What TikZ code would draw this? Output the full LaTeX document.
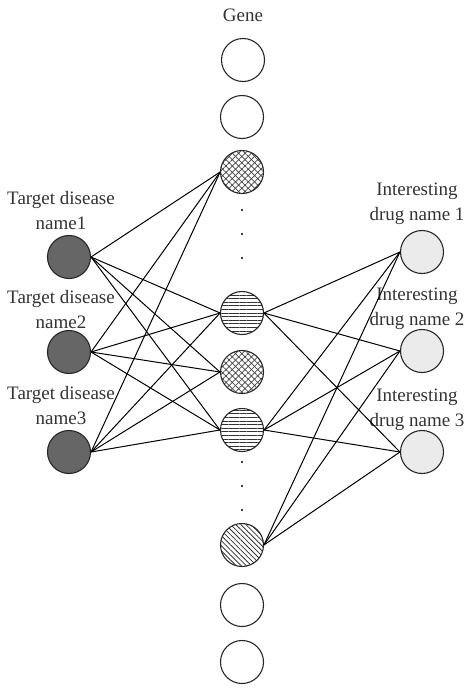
\documentclass[tikz,border=0pt]{standalone}
\usepackage{fontspec}
\setmainfont{Liberation Serif}
\usetikzlibrary{patterns.meta}
\definecolor{disfill}{HTML}{666666}
\definecolor{drugfill}{HTML}{EBEBEB}
\tikzset{
  base/.style={circle, draw=black!85, line width=1.1pt, minimum size=43pt, inner sep=0pt},
  gene/.style={base, fill=white},
  cross/.style={base, pattern={Lines[angle=45,distance=4.5pt,line width=0.7pt]}, pattern color=black!75,
     postaction={pattern={Lines[angle=-45,distance=4.5pt,line width=0.7pt]}, pattern color=black!75}},
  hlines/.style={base, pattern={Lines[angle=0,distance=3.6pt,line width=0.8pt]}, pattern color=black!80},
  dlines/.style={base, pattern={Lines[angle=-45,distance=3.6pt,line width=0.8pt]}, pattern color=black!80},
  disease/.style={base, fill=disfill},
  drug/.style={base, fill=drugfill},
  lbl/.style={align=center, font=\fontsize{19}{25}\selectfont, text=black!80, inner sep=0pt},
  edge/.style={line width=1pt, black},
  dotn/.style={circle, fill=black, inner sep=0pt, minimum size=2.3pt}
}
\begin{document}
\begin{tikzpicture}[x=1pt,y=-1pt]
\useasboundingbox (0,0) rectangle (474,691);
% gene label
\node[lbl] (genelbl) at (243,15) {Gene};
% gene column
\node[gene]   (g1) at (243,60) {};
\node[gene]   (g2) at (242,117) {};
\node[cross]  (g3) at (242,172) {};
\node[dotn] (d1) at (242,210) {};
\node[dotn] (d2) at (242,234) {};
\node[dotn] (d3) at (242,258) {};
\node[hlines] (g4) at (242,313) {};
\node[cross]  (g5) at (242,372) {};
\node[hlines] (g6) at (242,430) {};
\node[dotn] (d4) at (242,462) {};
\node[dotn] (d5) at (242,486) {};
\node[dotn] (d6) at (242,510) {};
\node[dlines] (g7) at (242,545) {};
\node[gene]   (g8) at (242,605) {};
\node[gene]   (g9) at (242,662) {};
% diseases
\node[disease] (t1) at (69,257) {};
\node[disease] (t2) at (69,352) {};
\node[disease] (t3) at (69,452) {};
\node[lbl] (tl1) at (61,210) {Target disease\\name1};
\node[lbl] (tl2) at (61,309) {Target disease\\name2};
\node[lbl] (tl3) at (61,405) {Target disease\\name3};
% drugs
\node[drug] (r1) at (422,252) {};
\node[drug] (r2) at (422,351) {};
\node[drug] (r3) at (422,452) {};
\node[lbl] (rl1) at (417,204) {Interesting\\drug name 1};
\node[lbl] (rl2) at (417,309) {Interesting\\drug name 2};
\node[lbl] (rl3) at (417,410) {Interesting\\drug name 3};
% edges disease -> gene
\foreach \t in {t1,t2,t3}{
  \foreach \g in {g3,g4,g5,g6}{
    \draw[edge] (\t.east) -- (\g.west);
  }
}
% edges gene -> drug
\foreach \g in {g4,g6,g7}{
  \foreach \r in {r1,r2,r3}{
    \draw[edge] (\g.east) -- (\r.west);
  }
}
\end{tikzpicture}
\end{document}
